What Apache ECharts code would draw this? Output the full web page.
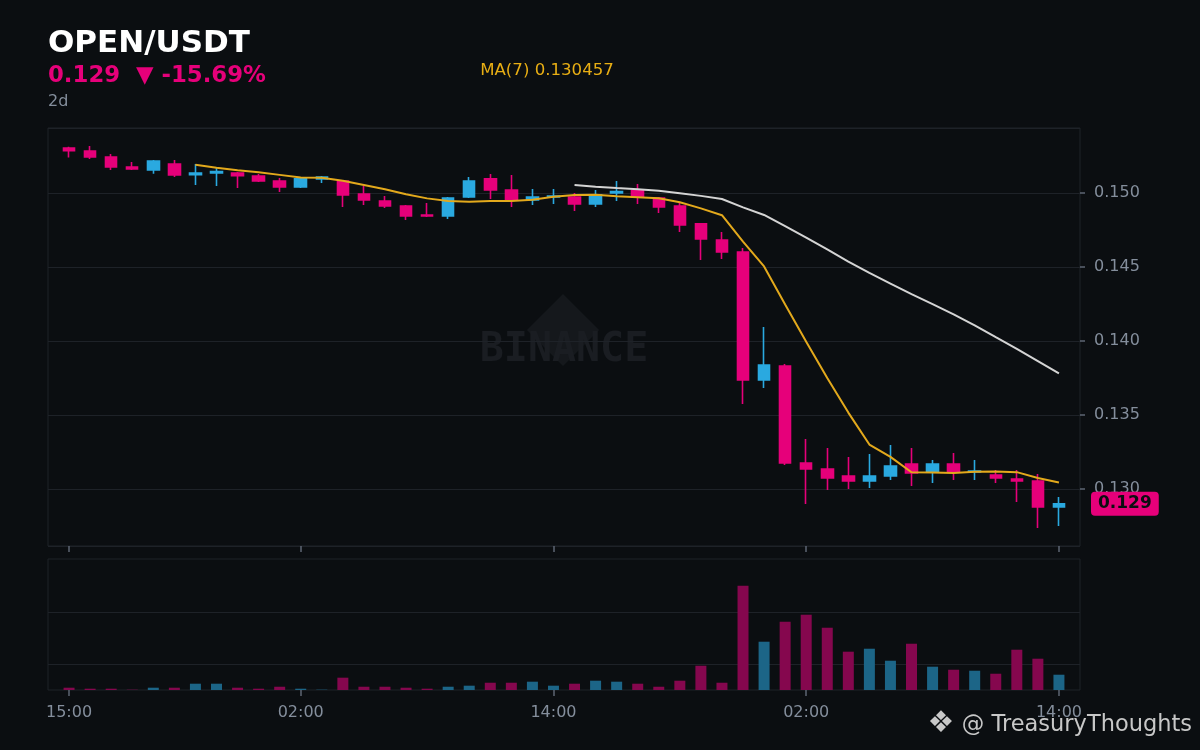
<!DOCTYPE html>
<html>
<head>
<meta charset="utf-8">
<script src="https://cdn.jsdelivr.net/npm/echarts@6/dist/echarts.min.js"></script>
<style>
html,body{margin:0;padding:0;background:#0b0e11;}
#c{width:1200px;height:750px;}
</style>
</head>
<body>
<div id="c"></div>
<script>
// ---- data (hourly candles, 15:00 day 1 -> 14:00 day 3) ----
const times = ['15:00','16:00','17:00','18:00','19:00','20:00','21:00','22:00','23:00','00:00','01:00','02:00',
  '03:00','04:00','05:00','06:00','07:00','08:00','09:00','10:00','11:00','12:00','13:00','14:00',
  '15:00','16:00','17:00','18:00','19:00','20:00','21:00','22:00','23:00','00:00','01:00','02:00',
  '03:00','04:00','05:00','06:00','07:00','08:00','09:00','10:00','11:00','12:00','13:00','14:00'];
const opens = [0.15304,0.15284,0.15243,0.15176,0.15155,0.15196,0.15124,0.15135,0.15135,0.15115,0.15081,0.15041,
  0.15095,0.15081,0.14993,0.14946,0.14912,0.14851,0.14845,0.14973,0.15095,0.15020,0.14953,0.14973,
  0.14973,0.14926,0.15000,0.15014,0.14966,0.14912,0.14791,0.14682,0.14601,0.13737,0.13831,0.13176,
  0.13135,0.13088,0.13054,0.13088,0.13169,0.13115,0.13169,0.13115,0.13095,0.13068,0.13054,0.12878];
const closes = [0.15286,0.15243,0.15176,0.15162,0.15216,0.15122,0.15135,0.15144,0.15117,0.15081,0.15041,0.15095,
  0.15108,0.14987,0.14953,0.14912,0.14845,0.14845,0.14966,0.15081,0.15020,0.14953,0.14973,0.14980,
  0.14926,0.14987,0.15009,0.14973,0.14905,0.14784,0.14689,0.14601,0.13737,0.13838,0.13176,0.13135,
  0.13074,0.13054,0.13088,0.13155,0.13108,0.13169,0.13115,0.13122,0.13074,0.13054,0.12878,0.12900];
const lows = [0.15239,0.15230,0.15155,0.15155,0.15130,0.15108,0.15054,0.15047,0.15034,0.15074,0.15007,0.15034,
  0.15068,0.14905,0.14919,0.14899,0.14818,0.14838,0.14824,0.14966,0.14960,0.14905,0.14919,0.14926,
  0.14878,0.14905,0.14946,0.14926,0.14865,0.14737,0.14547,0.14554,0.13574,0.13682,0.13162,0.12899,
  0.12993,0.13000,0.13007,0.13061,0.13020,0.13041,0.13061,0.13061,0.13041,0.12912,0.12736,0.12750];
const highs = [0.15313,0.15318,0.15264,0.15210,0.15223,0.15223,0.15196,0.15176,0.15142,0.15128,0.15101,0.15108,
  0.15115,0.15088,0.15047,0.14980,0.14919,0.14932,0.14973,0.15108,0.15128,0.15122,0.15027,0.15027,
  0.15000,0.15020,0.15081,0.15061,0.14973,0.14932,0.14797,0.14737,0.14628,0.14095,0.13845,0.13338,
  0.13277,0.13216,0.13236,0.13297,0.13277,0.13196,0.13243,0.13196,0.13128,0.13128,0.13101,0.12946];
const volumes = [44,25,25,6,44,44,121,121,44,25,63,25,
  6,237,63,63,44,25,63,83,140,140,160,83,
  121,179,160,121,63,179,467,140,2006,929,1313,1448,
  1198,737,794,563,890,448,390,371,313,775,602,294];
const tickIndexes = [0,11,23,35,47];
const volumeGridValues = [500,1500];

// ---- styling constants ----
const UP = '#2aa9e0', DOWN = '#e6007a';
const UP_VOL = '#1c6587', DOWN_VOL = '#85074e';
const GRID = '#1e2228', TXT = '#848e9c';
const FONT = 'DejaVu Sans';

function movingAverage(n) {
  return closes.map((_, i) => {
    if (i < n - 1) return '-';
    let s = 0;
    for (let k = i - n + 1; k <= i; k++) s += closes[k];
    return +(s / n).toFixed(6);
  });
}
const pad = arr => ['-', ...arr, '-'];
const cats = ['', ...times, ''];
const candleData = ['-', ...times.map((t, i) => [opens[i], closes[i], lows[i], highs[i]]), '-'];
const isTick = idx => tickIndexes.includes(idx - 1);

const chart = echarts.init(document.getElementById('c'));
chart.setOption({
  animation: false,
  backgroundColor: '#0b0e11',
  textStyle: { fontFamily: FONT },
  graphic: [
    { type: 'rect', x: 563, y: 330, rotation: Math.PI / 4, z: -1,
      shape: { x: -25.5, y: -25.5, width: 51, height: 51 }, style: { fill: '#15181c' } },
    { type: 'text', x: 564, y: 351, z: -1,
      style: { text: 'BINANCE', fill: '#1a1d22', font: 'bold 40px "DejaVu Sans Mono"', align: 'center', verticalAlign: 'middle' } },
    { type: 'text', x: 48, y: 44,
      style: { text: 'OPEN/USDT', fill: '#ffffff', font: 'bold 31px "DejaVu Sans"', verticalAlign: 'middle' } },
    { type: 'text', x: 48, y: 76,
      style: { text: '0.129  \u25BC -15.69%', fill: DOWN, font: 'bold 22.8px "DejaVu Sans"', verticalAlign: 'middle' } },
    { type: 'text', x: 48, y: 102,
      style: { text: '2d', fill: TXT, font: '16px "DejaVu Sans"', verticalAlign: 'middle' } },
    { type: 'text', x: 547, y: 71,
      style: { text: 'MA(7) 0.130457', fill: '#e8ae14', font: '16.6px "DejaVu Sans"', align: 'center', verticalAlign: 'middle' } },
    { type: 'text', x: 941, y: 724,
      style: { text: '\u2756', fill: '#c8c8c8', font: '30px "DejaVu Sans"', align: 'center', verticalAlign: 'middle' } },
    { type: 'text', x: 1192, y: 725,
      style: { text: '@ TreasuryThoughts', fill: '#c8c8c8', font: '22.5px "DejaVu Sans"', align: 'right', verticalAlign: 'middle' } }
  ],
  grid: [
    { left: 48, top: 128, width: 1032, height: 418, show: true, borderColor: GRID, borderWidth: 1 },
    { left: 48, top: 559, width: 1032, height: 131, show: true, borderColor: GRID, borderWidth: 1 }
  ],
  xAxis: [
    { type: 'category', gridIndex: 0, data: cats, boundaryGap: false,
      axisLine: { show: false },
      axisTick: { show: true, interval: isTick, length: 6, lineStyle: { color: '#5e6673', width: 1.5 } },
      axisLabel: { show: false }, splitLine: { show: false } },
    { type: 'category', gridIndex: 1, data: cats, boundaryGap: false,
      axisLine: { show: false },
      axisTick: { show: true, interval: isTick, length: 6, lineStyle: { color: '#5e6673', width: 1.5 } },
      axisLabel: { show: true, interval: isTick, color: TXT, fontSize: 16, fontFamily: FONT, margin: 15 },
      splitLine: { show: false } }
  ],
  yAxis: [
    { type: 'value', gridIndex: 0, position: 'right', min: 0.12615, max: 0.15439, splitNumber: 5,
      axisLine: { show: false },
      axisTick: { show: true, length: 5, lineStyle: { color: '#5e6673', width: 1.5 } },
      axisLabel: { color: TXT, fontSize: 16, fontFamily: FONT, margin: 14, showMinLabel: false, showMaxLabel: false,
        padding: [7, 0, 0, 0], formatter: v => v.toFixed(3) },
      splitLine: { show: true, lineStyle: { color: GRID, width: 1 } } },
    { type: 'value', gridIndex: 1, min: 0, max: 2520, show: false, splitLine: { show: false } }
  ],
  series: [
    { type: 'candlestick', xAxisIndex: 0, yAxisIndex: 0, data: candleData, barWidth: 12,
      itemStyle: { color: UP, color0: DOWN, borderColor: UP, borderColor0: DOWN, borderWidth: 1.6 },
      markLine: { silent: true, symbol: ['none', 'none'], z: 6, precision: 5,
        lineStyle: { color: 'rgba(0,0,0,0)', width: 0 },
        label: { show: true, position: 'end', distance: 11, formatter: p => Number(p.value).toFixed(3),
          color: '#0b0e11', backgroundColor: DOWN, fontWeight: 'bold', fontSize: 17, fontFamily: FONT,
          padding: [4, 7, 3, 7], borderRadius: 4 },
        data: [{ yAxis: closes[closes.length - 1] }] } },
    { type: 'line', name: 'MA7', xAxisIndex: 0, yAxisIndex: 0, data: pad(movingAverage(7)),
      symbol: 'none', lineStyle: { color: '#e3a91c', width: 2 } },
    { type: 'line', name: 'MA25', xAxisIndex: 0, yAxisIndex: 0, data: pad(movingAverage(25)),
      symbol: 'none', lineStyle: { color: '#d4d4d4', width: 2 } },
    { type: 'bar', xAxisIndex: 1, yAxisIndex: 1, data: pad(volumes), barWidth: 11, z: 2,
      itemStyle: { color: p => (closes[p.dataIndex - 1] >= opens[p.dataIndex - 1] ? UP_VOL : DOWN_VOL) },
      markLine: { silent: true, symbol: ['none', 'none'], z: 1,
        label: { show: false }, lineStyle: { color: GRID, type: 'solid', width: 1 },
        data: volumeGridValues.map(v => ({ yAxis: v })) } }
  ]
});
</script>
</body>
</html>
